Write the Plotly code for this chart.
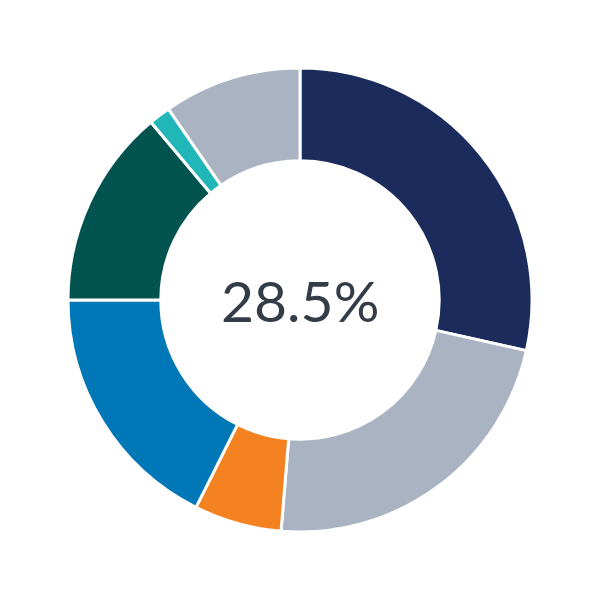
import plotly.graph_objects as go

labels = ["A", "B", "C", "D", "E", "F", "G"]
values = [28.5, 22.8, 6.1, 17.6, 13.9, 1.5, 9.6]
colors = ["#1b2b5b", "#a9b3c2", "#f58220", "#0077b6", "#00534f", "#21b6b8", "#a9b3c2"]
center_text = "28.5%"

fig = go.Figure(go.Pie(
    labels=labels,
    values=values,
    hole=0.6,
    sort=False,
    direction="clockwise",
    rotation=0,
    marker=dict(colors=colors, line=dict(color="white", width=3)),
    textinfo="none",
    hoverinfo="label+percent",
))
fig.update_layout(
    width=600, height=600,
    margin=dict(l=60, r=76, t=60, b=76),
    showlegend=False,
    paper_bgcolor="white",
    annotations=[dict(text=center_text, x=0.5, y=0.5, xref="paper", yref="paper",
                      showarrow=False, font=dict(family="Lato", size=57, color="#333c47"))],
)
fig.write_html("out.html")
